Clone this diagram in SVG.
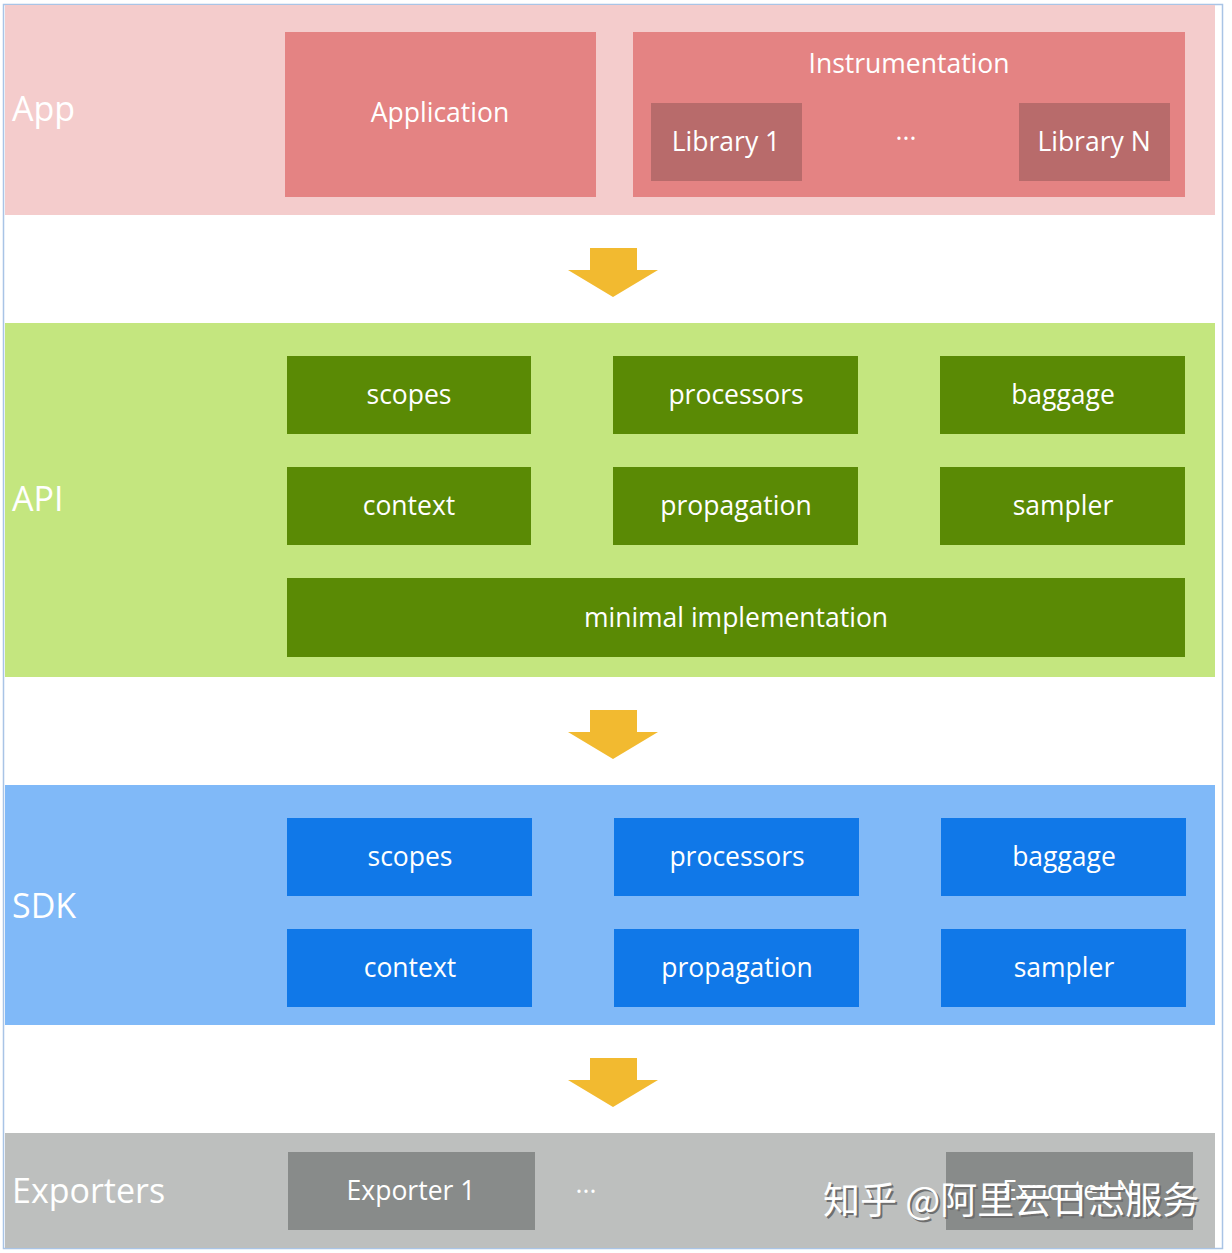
<svg xmlns="http://www.w3.org/2000/svg" width="1232" height="1253" viewBox="0 0 1232 1253">
<defs>
<style>
text{font-family:"Open Sans","Liberation Sans",Arial,sans-serif;fill:#ffffff}
.lay{font-size:34px}
.lbl{font-size:26.5px;font-weight:500;text-anchor:middle}
.wm{font-family:"Noto Sans CJK SC",sans-serif;font-size:37px;fill:#ffffff}
.wms{font-family:"Noto Sans CJK SC",sans-serif;font-size:37px;fill:#6e6e6e}
.arrow{fill:#F2BA30}
</style>
</defs>
<rect x="0" y="0" width="1232" height="1253" fill="#ffffff"/>
<rect x="3.5" y="4.5" width="1219" height="1244" fill="#ffffff" stroke="#A9C4E6" stroke-width="1.5"/>

<g id="app-layer">
<rect x="5" y="5" width="1210" height="210" fill="#F4CCCC"/>
<text class="lay" x="12" y="121">App</text>
</g>
<g id="application">
<rect x="285" y="32" width="311" height="165" fill="#E48383"/>
<text class="lbl" x="440" y="122">Application</text>
</g>
<g id="instrumentation">
<rect x="633" y="32" width="552" height="165" fill="#E48383"/>
<text class="lbl" x="909" y="73">Instrumentation</text>
<text class="lbl" x="906" y="148">···</text>
</g>
<g id="library1">
<rect x="651" y="103" width="151" height="78" fill="#B86B6B"/>
<text class="lbl" x="726" y="151">Library 1</text>
</g>
<g id="libraryN">
<rect x="1019" y="103" width="151" height="78" fill="#B86B6B"/>
<text class="lbl" x="1094" y="151">Library N</text>
</g>

<g id="api-layer">
<rect x="5" y="323" width="1210" height="354" fill="#C4E67F"/>
<text class="lay" x="12" y="511">API</text>
</g>
<g id="api-scopes"><rect x="287" y="356" width="244" height="78" fill="#5A8A05"/><text class="lbl" x="409" y="404">scopes</text></g>
<g id="api-processors"><rect x="613" y="356" width="245" height="78" fill="#5A8A05"/><text class="lbl" x="736" y="404">processors</text></g>
<g id="api-baggage"><rect x="940" y="356" width="245" height="78" fill="#5A8A05"/><text class="lbl" x="1063" y="404">baggage</text></g>
<g id="api-context"><rect x="287" y="467" width="244" height="78" fill="#5A8A05"/><text class="lbl" x="409" y="515">context</text></g>
<g id="api-propagation"><rect x="613" y="467" width="245" height="78" fill="#5A8A05"/><text class="lbl" x="736" y="515">propagation</text></g>
<g id="api-sampler"><rect x="940" y="467" width="245" height="78" fill="#5A8A05"/><text class="lbl" x="1063" y="515">sampler</text></g>
<g id="api-minimal"><rect x="287" y="578" width="898" height="79" fill="#5A8A05"/><text class="lbl" x="736" y="627">minimal implementation</text></g>

<g id="sdk-layer">
<rect x="5" y="785" width="1210" height="240" fill="#80B9F8"/>
<text class="lay" x="12" y="918">SDK</text>
</g>
<g id="sdk-scopes"><rect x="287" y="818" width="245" height="78" fill="#1078E8"/><text class="lbl" x="410" y="866">scopes</text></g>
<g id="sdk-processors"><rect x="614" y="818" width="245" height="78" fill="#1078E8"/><text class="lbl" x="737" y="866">processors</text></g>
<g id="sdk-baggage"><rect x="941" y="818" width="245" height="78" fill="#1078E8"/><text class="lbl" x="1064" y="866">baggage</text></g>
<g id="sdk-context"><rect x="287" y="929" width="245" height="78" fill="#1078E8"/><text class="lbl" x="410" y="977">context</text></g>
<g id="sdk-propagation"><rect x="614" y="929" width="245" height="78" fill="#1078E8"/><text class="lbl" x="737" y="977">propagation</text></g>
<g id="sdk-sampler"><rect x="941" y="929" width="245" height="78" fill="#1078E8"/><text class="lbl" x="1064" y="977">sampler</text></g>

<g id="exporters-layer">
<rect x="5" y="1133" width="1210" height="115" fill="#BDBFBE"/>
<text class="lay" x="12" y="1203">Exporters</text>
<text class="lbl" x="586" y="1201">···</text>
</g>
<g id="exporter1"><rect x="288" y="1152" width="247" height="78" fill="#888B8A"/><text class="lbl" x="411" y="1200">Exporter 1</text></g>
<g id="exporterN"><rect x="946" y="1152" width="247" height="78" fill="#888B8A"/><text class="lbl" x="1069" y="1200">Exporter N</text></g>

<g id="connectors">
<polygon class="arrow" points="590,248 637,248 637,270 658,270 613,297 568,270 590,270"/>
<polygon class="arrow" points="590,710 637,710 637,732 658,732 613,759 568,732 590,732"/>
<polygon class="arrow" points="590,1058 637,1058 637,1080 658,1080 613,1107 568,1080 590,1080"/>
</g>

<g id="watermark">
<text class="wms" x="825" y="1216">知乎 @阿里云日志服务</text>
<text class="wm" x="823" y="1214">知乎 @阿里云日志服务</text>
</g>
</svg>
